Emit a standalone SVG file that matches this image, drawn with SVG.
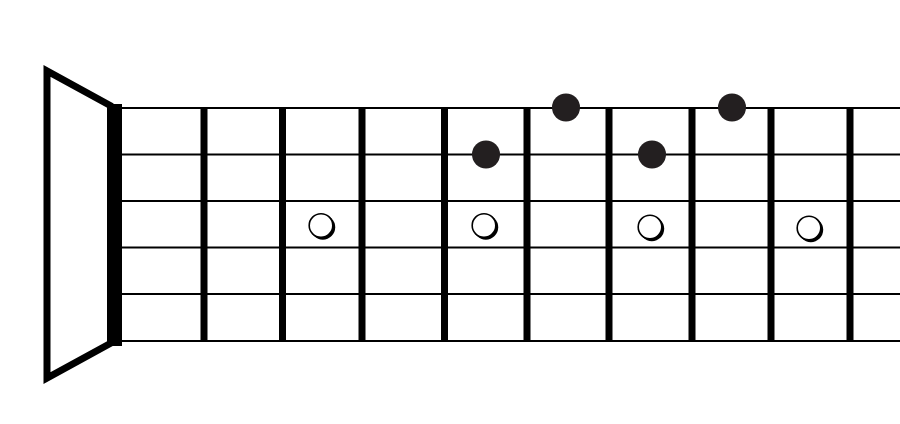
<svg xmlns="http://www.w3.org/2000/svg" width="900" height="424" viewBox="0 0 900 424">
  <style>
    .str { stroke: #000; stroke-width: 2; }
    .fret { fill: #000; }
    .dot { fill: #231f20; }
    .shadow { fill: #000; }
    .ring { fill: #fff; stroke: #000; stroke-width: 1.6; }
  </style>
  <defs>
    <g id="marker">
      <circle class="shadow" cx="1.8" cy="1.8" r="12.4"/>
      <circle class="ring" cx="0" cy="0" r="11.8"/>
    </g>
  </defs>
  <rect width="900" height="424" fill="#fff"/>
  <g id="headstock">
    <polyline points="112,106.5 47,71 47,378 112,342.5" fill="none" stroke="#000" stroke-width="7" stroke-linejoin="miter"/>
  </g>
  <g id="strings">
    <line class="str" x1="115" y1="108" x2="900" y2="108"/>
    <line class="str" x1="115" y1="154.5" x2="900" y2="154.5"/>
    <line class="str" x1="115" y1="201" x2="900" y2="201"/>
    <line class="str" x1="115" y1="247.5" x2="900" y2="247.5"/>
    <line class="str" x1="115" y1="294" x2="900" y2="294"/>
    <line class="str" x1="115" y1="341" x2="900" y2="341"/>
  </g>
  <g id="nut">
    <rect x="107" y="104" width="15" height="242" fill="#000"/>
  </g>
  <g id="frets">
    <rect class="fret" x="200.5" y="107" width="7" height="235"/>
    <rect class="fret" x="279" y="107" width="7" height="235"/>
    <rect class="fret" x="358.5" y="107" width="7" height="235"/>
    <rect class="fret" x="441" y="107" width="7" height="235"/>
    <rect class="fret" x="523.5" y="107" width="7" height="235"/>
    <rect class="fret" x="605.5" y="107" width="7" height="235"/>
    <rect class="fret" x="688.5" y="107" width="7" height="235"/>
    <rect class="fret" x="767.5" y="107" width="7" height="235"/>
    <rect class="fret" x="846.5" y="107" width="7" height="235"/>
  </g>
  <g id="inlays">
    <use href="#marker" x="321" y="225.5"/>
    <use href="#marker" x="484" y="225.5"/>
    <use href="#marker" x="650" y="227"/>
    <use href="#marker" x="809" y="228"/>
  </g>
  <g id="notes">
    <circle class="dot" cx="486" cy="154.5" r="14"/>
    <circle class="dot" cx="566" cy="107.5" r="14"/>
    <circle class="dot" cx="652" cy="154.5" r="14"/>
    <circle class="dot" cx="732" cy="107.5" r="14"/>
  </g>
  <g id="connectors"/>
</svg>
